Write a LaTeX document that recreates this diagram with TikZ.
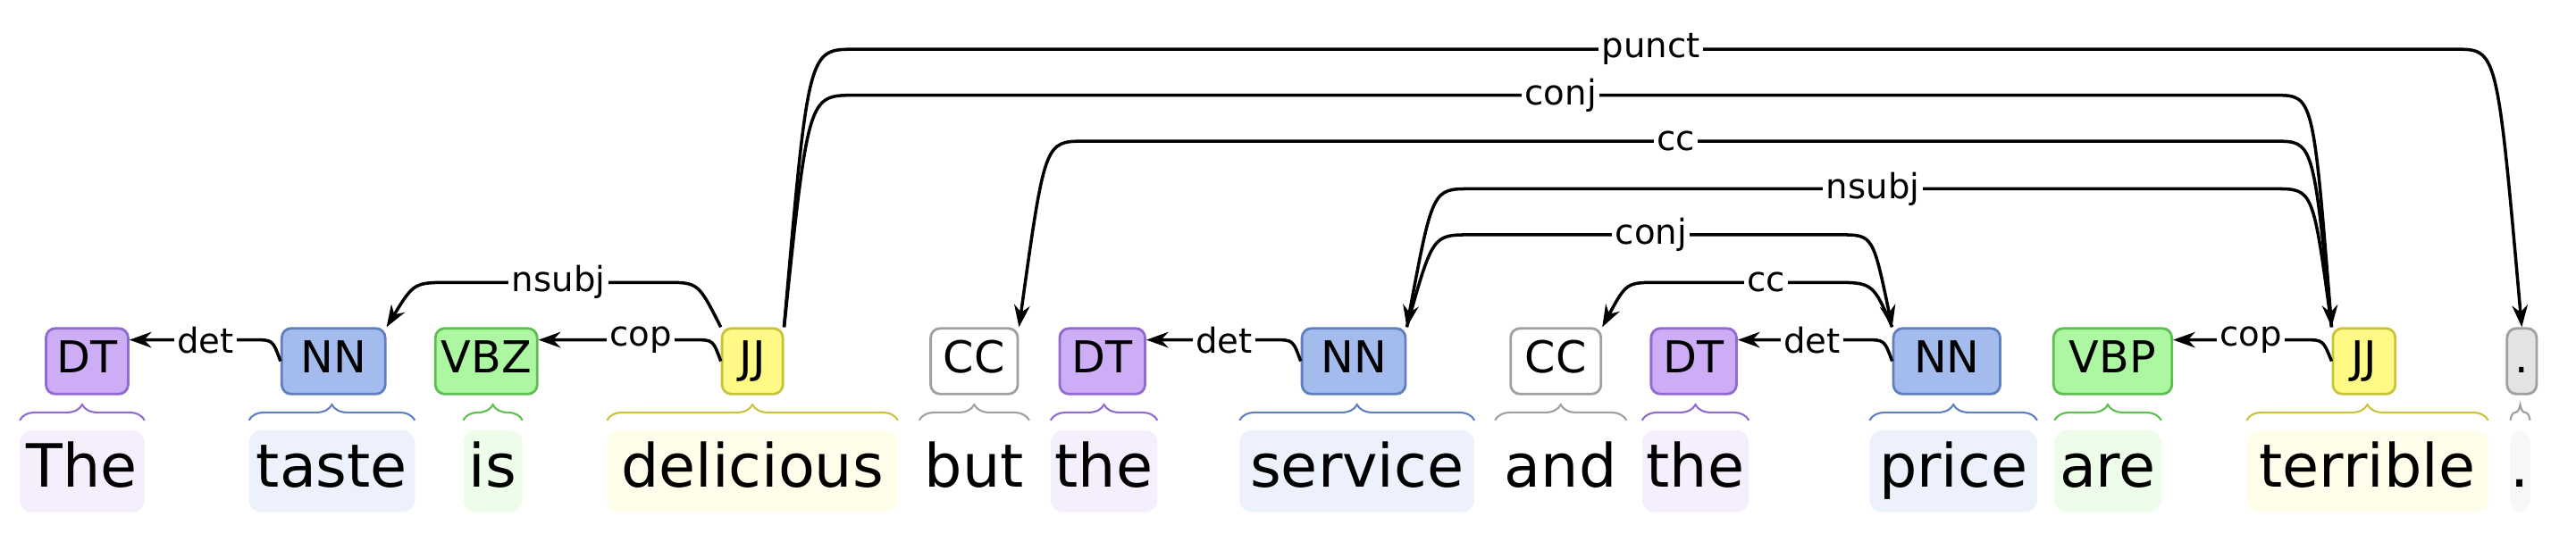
\documentclass[tikz,border=0pt]{standalone}
\usepackage{fontspec}
\setmainfont{DejaVu Sans}
\usetikzlibrary{arrows.meta,decorations.pathreplacing}
\definecolor{dtF}{HTML}{CCADF6}\definecolor{dtB}{HTML}{8F6BD0}\definecolor{dtW}{HTML}{F4EEFD}
\definecolor{nnF}{HTML}{A4BCED}\definecolor{nnB}{HTML}{5F7FBF}\definecolor{nnW}{HTML}{ECF1FB}
\definecolor{vbF}{HTML}{ADF6A2}\definecolor{vbB}{HTML}{5FBE52}\definecolor{vbW}{HTML}{EDFDEA}
\definecolor{jjF}{HTML}{FFFA85}\definecolor{jjB}{HTML}{C9C33C}\definecolor{jjW}{HTML}{FFFEEA}
\definecolor{ccB}{HTML}{A0A0A0}\definecolor{ptF}{HTML}{E3E3E3}\definecolor{ptW}{HTML}{F7F7F7}
\tikzset{
 tag/.style={draw,rounded corners=3pt,line width=0.8pt,minimum height=40*0.018386cm,inner sep=0pt,text height=1.6ex,text depth=0.2ex,font=\fontsize{14}{16}\selectfont},
 dt/.style={tag,fill=dtF,draw=dtB}, nn/.style={tag,fill=nnF,draw=nnB}, vb/.style={tag,fill=vbF,draw=vbB},
 jj/.style={tag,fill=jjF,draw=jjB}, cc/.style={tag,fill=white,draw=ccB}, pt/.style={tag,fill=ptF,draw=ccB},
 word/.style={rounded corners=4pt,inner sep=0pt,minimum height=50*0.018386cm,text height=14pt,text depth=4pt,font=\fontsize{19}{22}\selectfont},
 br/.style={decorate,decoration={brace,amplitude=5pt},line width=0.6pt},
 arc/.style={line width=1pt,-{Stealth[length=7pt,width=5pt]}},
 lbl/.style={fill=white,inner sep=1pt,font=\fontsize{11}{13}\selectfont}
}
\newcommand\tg[5]{\node[#4,minimum width=#3*0.018386cm] (#1) at (#2,220) {#5};}
\newcommand\wrd[6]{\node[word,fill=#5,minimum width=#3*0.018386cm] (#1) at (#2,287) {#6};
 \draw[br,#4] (#2-#3/2,256) -- (#2+#3/2,256);}
\begin{document}
\begin{tikzpicture}[x=0.018386cm,y=-0.018386cm]
\useasboundingbox (0,0) rectangle (1568,329.6);
% words
\wrd{w1}{50}{76}{dtB}{dtW}{The}
\wrd{w2}{202}{101}{nnB}{nnW}{taste}
\wrd{w3}{300}{36}{vbB}{vbW}{is}
\wrd{w4}{458}{177}{jjB}{jjW}{delicious}
\wrd{w5}{593}{67}{ccB}{white}{but}
\wrd{w6}{672}{65}{dtB}{dtW}{the}
\wrd{w7}{826}{143}{nnB}{nnW}{service}
\wrd{w8}{950}{80}{ccB}{white}{and}
\wrd{w9}{1032}{65}{dtB}{dtW}{the}
\wrd{w10}{1189}{102}{nnB}{nnW}{price}
\wrd{w11}{1283}{65}{vbB}{vbW}{are}
\wrd{w12}{1441}{147}{jjB}{jjW}{terrible}
\wrd{w13}{1534}{12}{ccB}{ptW}{.}
% tags
\tg{dt1}{53}{50}{dt}{DT}
\tg{nn1}{203}{63}{nn}{NN}
\tg{vbz}{296}{62}{vb}{VBZ}
\tg{jj1}{458}{37}{jj}{JJ}
\tg{cc1}{593}{53}{cc}{CC}
\tg{dt2}{671}{52}{dt}{DT}
\tg{nn2}{824}{63}{nn}{NN}
\tg{cc2}{947}{55}{cc}{CC}
\tg{dt3}{1031}{52}{dt}{DT}
\tg{nn3}{1185}{65}{nn}{NN}
\tg{vbp}{1286}{72}{vb}{VBP}
\tg{jj2}{1439}{38}{jj}{JJ}
\tg{dot}{1535}{18}{pt}{.}
% high arcs
\draw[arc] (jj1.north east) .. controls (492,30) .. (520,30) -- (1495,30) .. controls (1520,30) .. (dot.north);
\node[lbl] (lp) at (1005,30) {punct};
\draw[arc] (jj1.north east) .. controls (492,58) .. (520,58) -- (1385,58) .. controls (1408,58) .. (jj2.north west);
\node[lbl] (lc1) at (950,58) {conj};
\draw[arc] (jj2.north west) .. controls (1408,86) .. (1385,86) -- (660,86) .. controls (636,86) .. (cc1.north east);
\node[lbl] (lcc1) at (1020,86) {cc};
\draw[arc] (jj2.north west) .. controls (1408,115) .. (1385,115) -- (895,115) .. controls (872,115) .. (nn2.north east);
\node[lbl] (ln2) at (1140,115) {nsubj};
\draw[arc] (nn2.north east) .. controls (872,143) .. (895,143) -- (1120,143) .. controls (1140,143) .. (nn3.north west);
\node[lbl] (lc2) at (1005,143) {conj};
\draw[arc] (nn3.north west) .. controls (1140,172) .. (1115,172) -- (1010,172) .. controls (990,172) .. (cc2.north east);
\node[lbl] (lcc2) at (1075,172) {cc};
\draw[arc] (jj1.north west) .. controls (425,172) .. (405,172) -- (275,172) .. controls (252,172) .. (nn1.north east);
\node[lbl] (ln1) at (340,172) {nsubj};
% low arcs
\draw[arc] (nn1.west) .. controls (166,207) .. (155,207) -- (dt1.east |- 0,207);
\node[lbl] (ld1) at (125,207) {det};
\draw[arc] (jj1.west) .. controls (434,207) .. (423,207) -- (vbz.east |- 0,207);
\node[lbl] (lcp1) at (390,207) {cop};
\draw[arc] (nn2.west) .. controls (787,207) .. (776,207) -- (dt2.east |- 0,207);
\node[lbl] (ld2) at (745,207) {det};
\draw[arc] (nn3.west) .. controls (1147,207) .. (1136,207) -- (dt3.east |- 0,207);
\node[lbl] (ld3) at (1103,207) {det};
\draw[arc] (jj2.west) .. controls (1414,207) .. (1403,207) -- (vbp.east |- 0,207);
\node[lbl] (lcp2) at (1370,207) {cop};
\end{tikzpicture}
\end{document}
